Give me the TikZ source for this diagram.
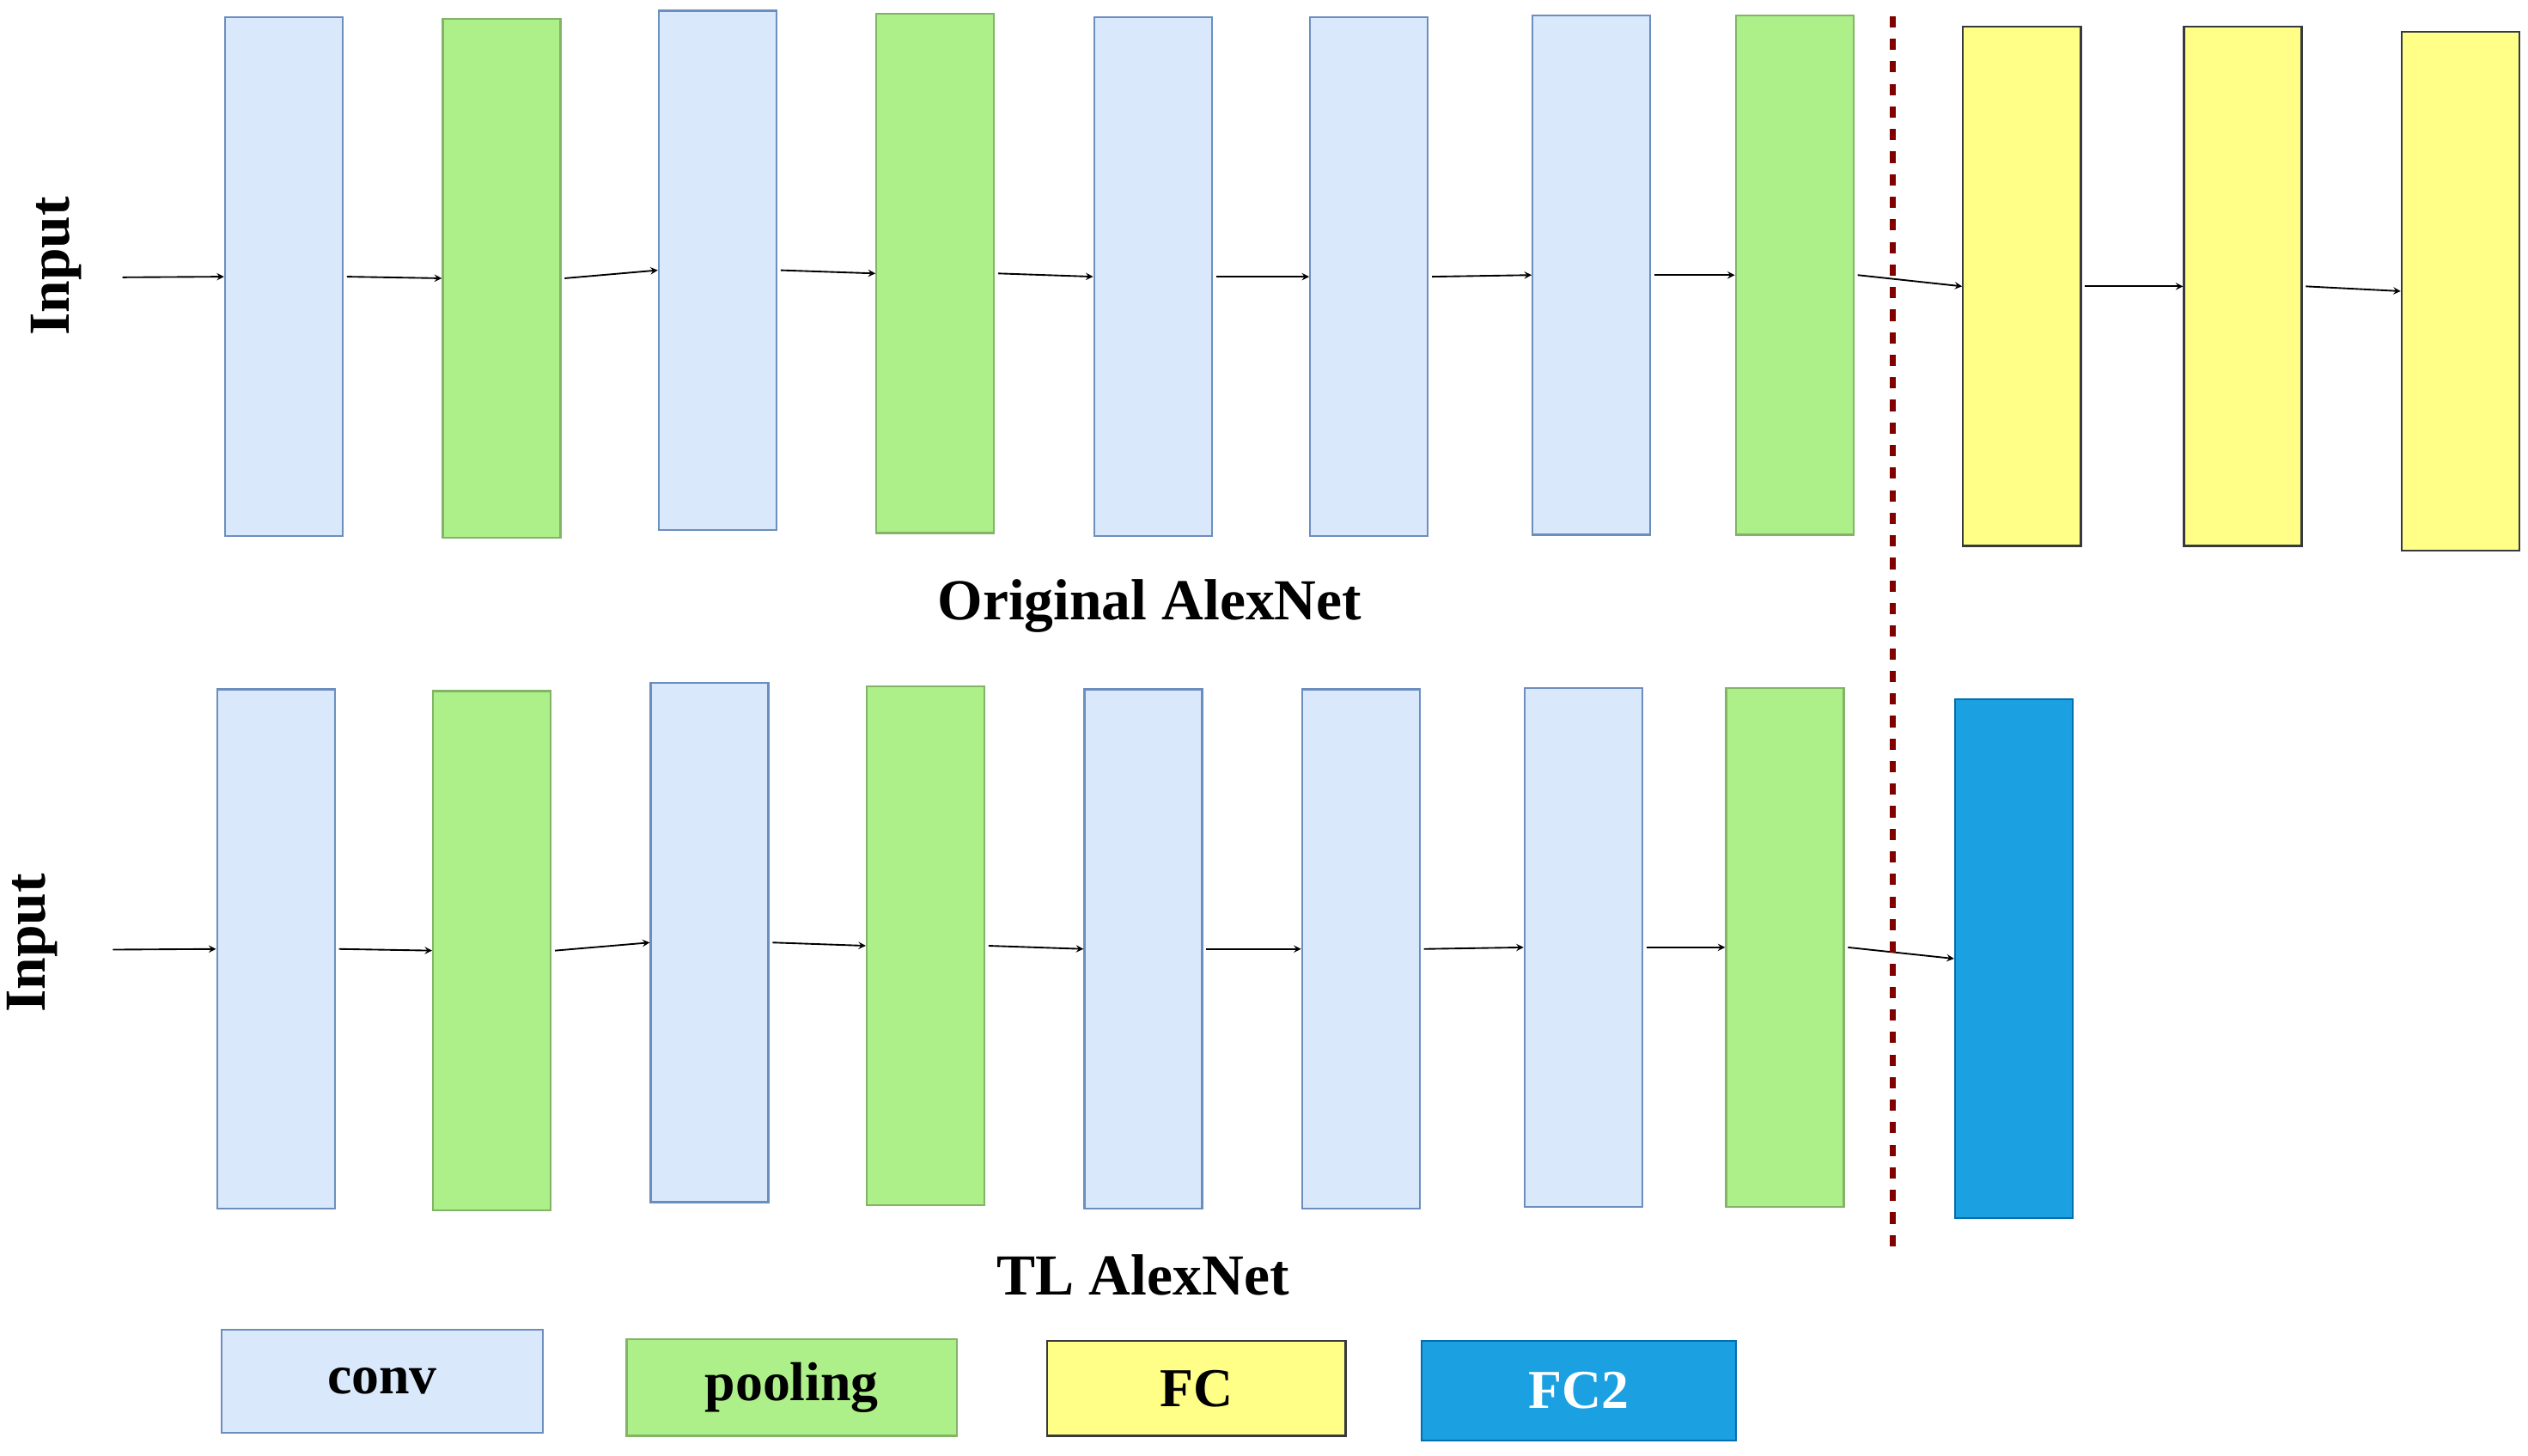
\documentclass[tikz,border=0pt]{standalone}
\usepackage{fontspec}
\setmainfont{Liberation Serif}
\begin{document}
\begin{tikzpicture}[x=1pt,y=-1pt,
 blk/.style={draw,line width=1.2pt,minimum width=73pt,minimum height=322pt,anchor=north west,inner sep=0pt},
 conv/.style={blk,fill=cvf,draw=cvd},
 pool/.style={blk,fill=plf,draw=pld},
 fc/.style={blk,fill=fcf,draw=fcd},
 fctwo/.style={blk,fill=f2f,draw=f2d},
 arr/.style={-stealth,line width=1pt},
 lab/.style={font=\fontsize{36}{40}\selectfont\bfseries},
 leg/.style={draw,line width=1.2pt,anchor=north west,inner sep=0pt,font=\fontsize{34}{38}\selectfont\bfseries}]
\definecolor{cvf}{HTML}{DAE8FC}\definecolor{cvd}{HTML}{6C8EBF}
\definecolor{plf}{HTML}{ADF08A}\definecolor{pld}{HTML}{82B366}
\definecolor{fcf}{HTML}{FFFF88}\definecolor{fcd}{HTML}{36393D}
\definecolor{f2f}{HTML}{1BA1E2}\definecolor{f2d}{HTML}{006EAF}
\useasboundingbox (0,0) rectangle (1568,903);
% top row
\node[conv] (t1) at (139,10) {};
\node[pool] (t2) at (274,11) {};
\node[conv] (t3) at (408,6) {};
\node[pool] (t4) at (543,8) {};
\node[conv] (t5) at (678,10) {};
\node[conv] (t6) at (812,10) {};
\node[conv] (t7) at (950,9) {};
\node[pool] (t8) at (1076,9) {};
\node[fc] (t9) at (1217,16) {};
\node[fc] (t10) at (1354,16) {};
\node[fc] (t11) at (1489,19) {};
\node[lab,rotate=90] (in1) at (35,165) {Input};
\coordinate (s1) at (76,172);
\draw[arr] (s1) -- (t1.west);
\foreach \a/\b in {t1/t2,t2/t3,t3/t4,t4/t5,t5/t6,t6/t7,t7/t8,t8/t9,t9/t10,t10/t11}
 \draw[arr] ([xshift=2pt]\a.east) -- (\b.west);
\node[lab] (ttl1) at (713,376) {Original AlexNet};
% bottom row
\node[conv] (b1) at (134,427) {};
\node[pool] (b2) at (268,428) {};
\node[conv] (b3) at (403,423) {};
\node[pool] (b4) at (537,425) {};
\node[conv] (b5) at (672,427) {};
\node[conv] (b6) at (807,427) {};
\node[conv] (b7) at (945,426) {};
\node[pool] (b8) at (1070,426) {};
\node[fctwo] (b9) at (1212,433) {};
\node[lab,rotate=90] (in2) at (20,585) {Input};
\coordinate (s2) at (70,589);
\draw[arr] (s2) -- (b1.west);
\foreach \a/\b in {b1/b2,b2/b3,b3/b4,b4/b5,b5/b6,b6/b7,b7/b8,b8/b9}
 \draw[arr] ([xshift=2pt]\a.east) -- (\b.west);
\node[lab] (ttl2) at (709,791) {TL AlexNet};
% divider
\coordinate (d1) at (1174,10);
\coordinate (d2) at (1174,776);
\draw[line width=4pt,color=red!50!black,dash pattern=on 7pt off 7pt] (d1) -- (d2);
% legend
\node[leg,fill=cvf,draw=cvd,minimum width=199pt,minimum height=64pt] (l1) at (137,824) {conv};
\node[leg,fill=plf,draw=pld,minimum width=205pt,minimum height=60pt] (l2) at (388,830) {pooling};
\node[leg,fill=fcf,draw=fcd,minimum width=185pt,minimum height=59pt] (l3) at (649,831) {FC};
\node[leg,fill=f2f,draw=f2d,minimum width=195pt,minimum height=62pt,text=white] (l4) at (881,831) {FC2};
\end{tikzpicture}
\end{document}
